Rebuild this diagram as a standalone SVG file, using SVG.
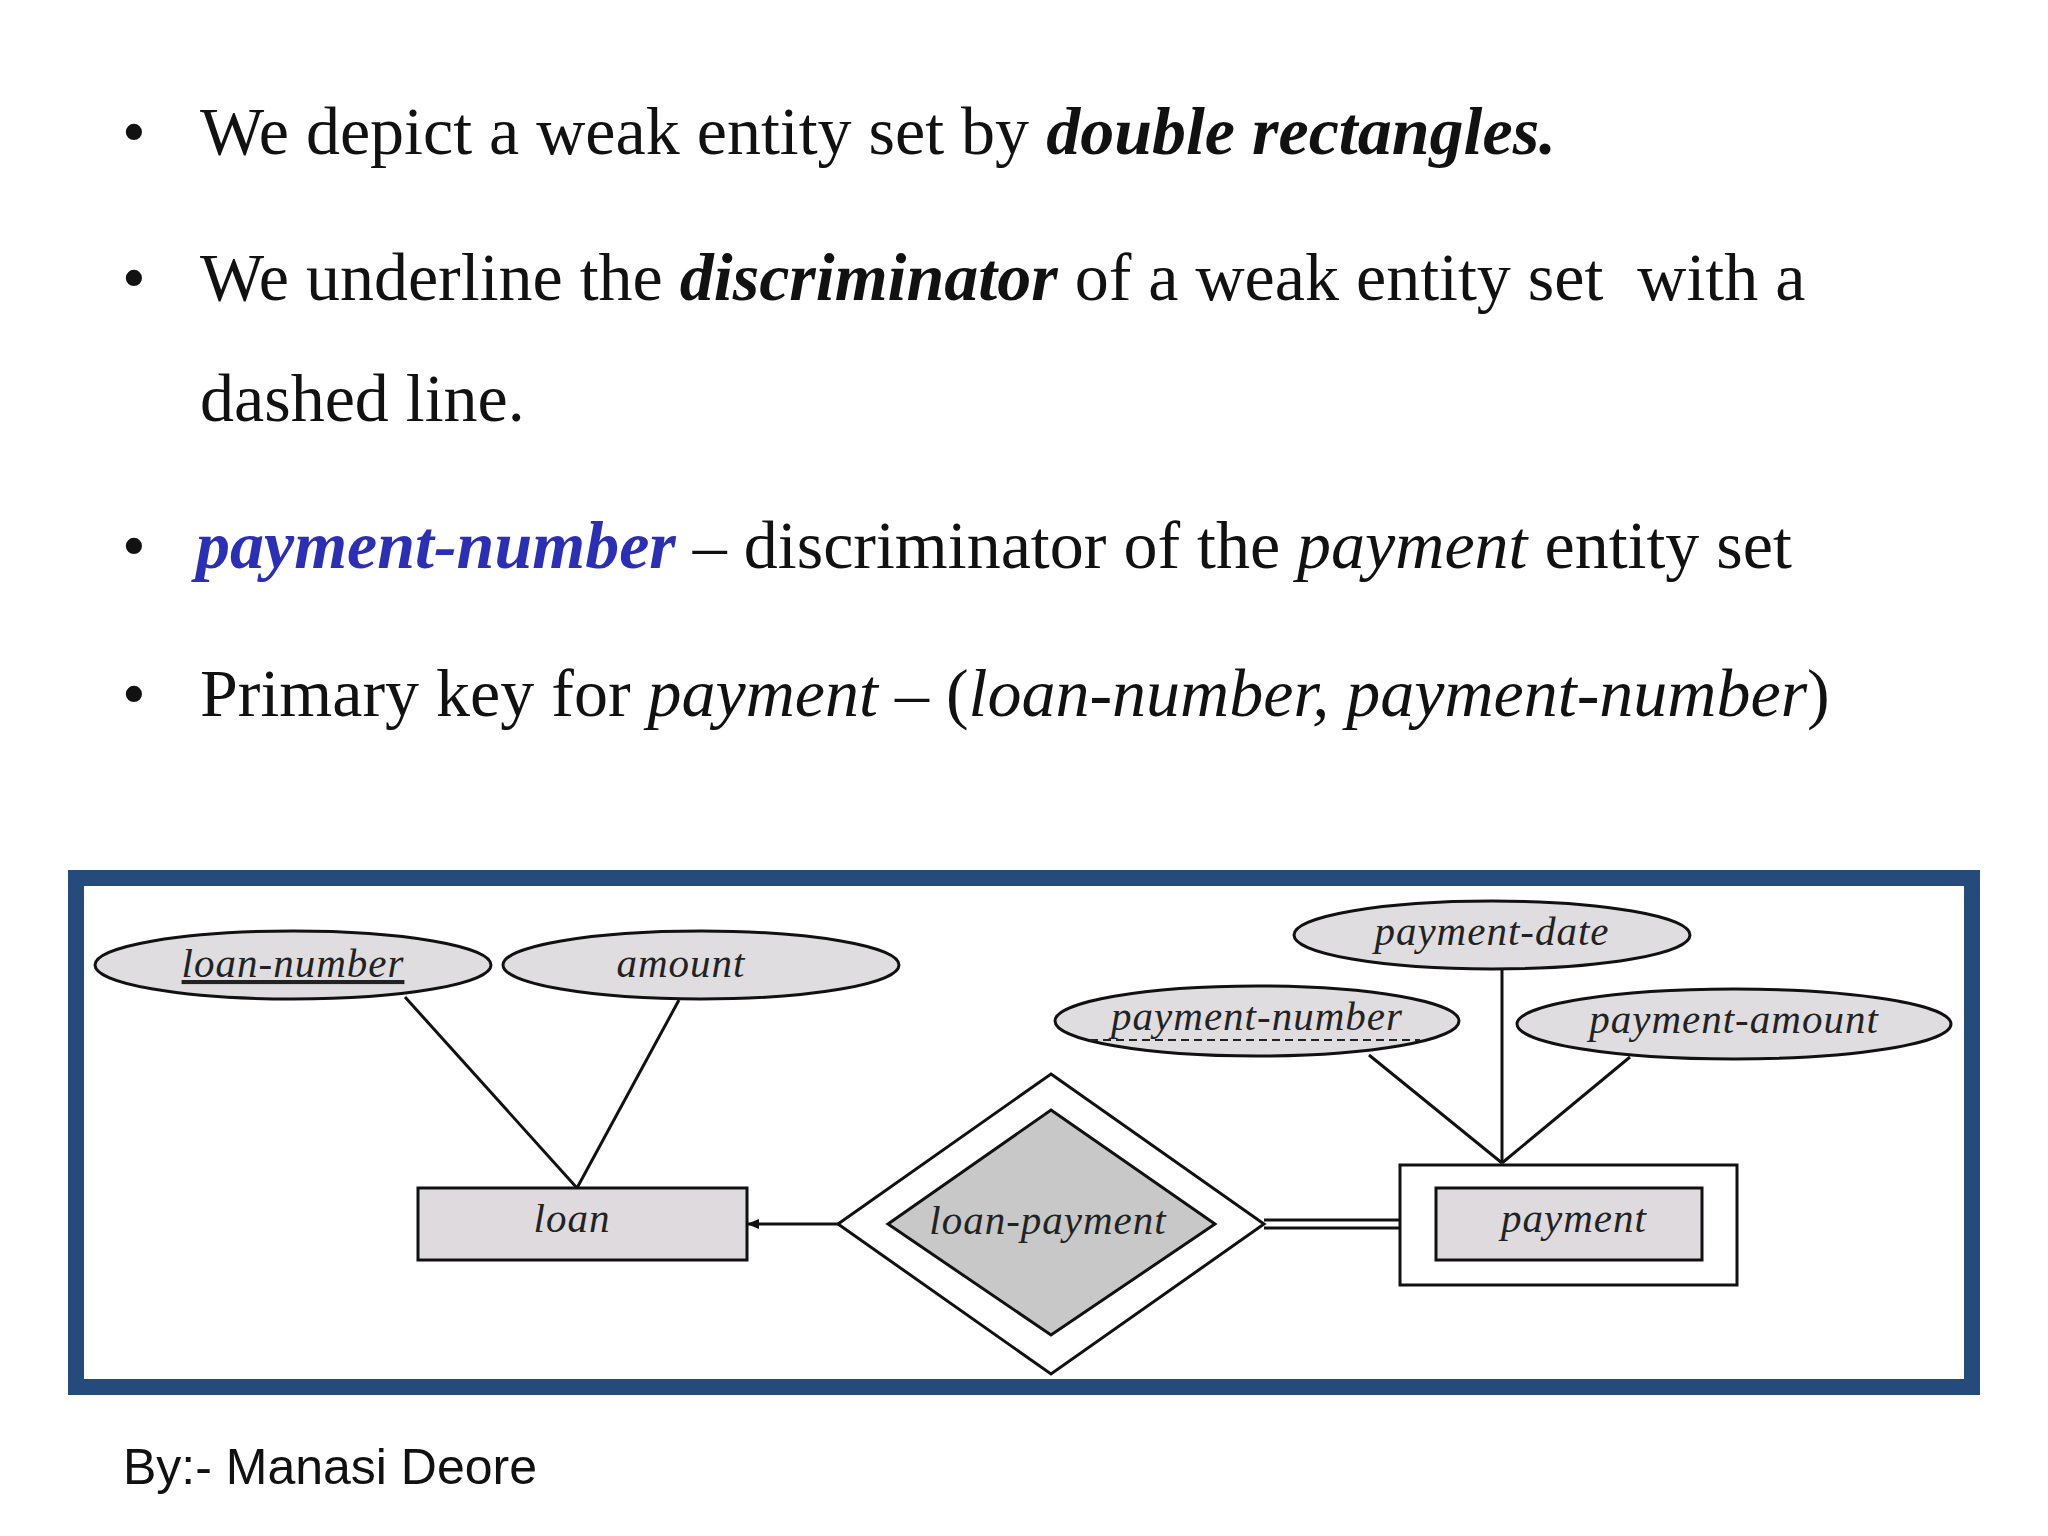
<svg xmlns="http://www.w3.org/2000/svg" width="2048" height="1536" viewBox="0 0 2048 1536">
<style>
.b{font-family:"Liberation Serif",serif;font-size:68px;fill:#111}
.bl{fill:#2b2fb5;font-weight:bold;font-style:italic}
.e{fill:#e0dde0;stroke:#111;stroke-width:3}
.t{font-family:"Liberation Serif",serif;font-style:italic;font-size:41px;fill:#222;text-anchor:middle;letter-spacing:1px}
.l{stroke:#111;stroke-width:3;fill:none}
</style>
<defs><marker id="ar" markerWidth="12" markerHeight="10" refX="11" refY="5" orient="auto" markerUnits="userSpaceOnUse"><path d="M0,0 L12,5 L0,10 Z" fill="#111"/></marker></defs>
<rect width="2048" height="1536" fill="#fff"/>
<g id="text">
<text class="b" x="122" y="154">•</text><text class="b" x="200" y="154">We depict a weak entity set by <tspan font-weight="bold" font-style="italic">double rectangles.</tspan></text>
<text class="b" x="122" y="300">•</text><text class="b" x="200" y="300" xml:space="preserve">We underline the <tspan font-weight="bold" font-style="italic">discriminator</tspan> of a weak entity set  with a</text>
<text class="b" x="200" y="421">dashed line.</text>
<text class="b" x="122" y="568">•</text><text class="b" x="196" y="568"><tspan class="bl">payment-number</tspan> – discriminator of the <tspan font-style="italic">payment</tspan> entity set</text>
<text class="b" x="122" y="716">•</text><text class="b" x="200" y="716">Primary key for <tspan font-style="italic">payment</tspan> – (<tspan font-style="italic">loan-number, payment-number</tspan>)</text>
<text x="123" y="1484" font-family="Liberation Sans,sans-serif" font-size="50" fill="#111">By:- Manasi Deore</text>
</g>
<rect id="frame" x="76" y="878" width="1896" height="509" fill="#fff" stroke="#254b7c" stroke-width="16"/>
<g id="connectors">
<line class="l" x1="405" y1="997" x2="577" y2="1188"/>
<line class="l" x1="679" y1="1000" x2="577" y2="1188"/>
<line class="l" x1="1369" y1="1055" x2="1502" y2="1163"/>
<line class="l" x1="1502" y1="968" x2="1502" y2="1163"/>
<line class="l" x1="1630" y1="1057" x2="1502" y2="1163"/>
<line class="l" x1="838" y1="1224" x2="748" y2="1224" marker-end="url(#ar)"/>
<line class="l" x1="1264" y1="1220" x2="1400" y2="1220"/>
<line class="l" x1="1264" y1="1228" x2="1400" y2="1228"/>
</g>
<g id="loan-number"><ellipse class="e" cx="293" cy="965" rx="198" ry="34"/><text class="t" x="293" y="977" text-decoration="underline">loan-number</text></g>
<g id="amount"><ellipse class="e" cx="701" cy="965" rx="198" ry="34"/><text class="t" x="681" y="977">amount</text></g>
<g id="payment-date"><ellipse class="e" cx="1492" cy="935" rx="198" ry="34"/><text class="t" x="1492" y="945">payment-date</text></g>
<g id="payment-number"><ellipse class="e" cx="1257" cy="1021" rx="202" ry="35"/><text class="t" x="1257" y="1030">payment-number</text><line x1="1090" y1="1040" x2="1420" y2="1040" stroke="#222" stroke-width="2" stroke-dasharray="8,5"/></g>
<g id="payment-amount"><ellipse class="e" cx="1734" cy="1024" rx="217" ry="35"/><text class="t" x="1734" y="1033">payment-amount</text></g>
<g id="loan"><rect x="418" y="1188" width="329" height="72" fill="#dedade" stroke="#111" stroke-width="3"/><text class="t" x="572" y="1232">loan</text></g>
<g id="loan-payment"><polygon points="1051,1074 1264,1224 1051,1374 838,1224" fill="#fff" stroke="#111" stroke-width="3"/><polygon points="1051,1110 1215,1224 1051,1335 888,1224" fill="#c8c8c8" stroke="#111" stroke-width="3"/><text class="t" x="1048" y="1234">loan-payment</text></g>
<g id="payment"><rect x="1400" y="1165" width="337" height="120" fill="#fff" stroke="#111" stroke-width="3"/><rect x="1436" y="1188" width="266" height="72" fill="#dedade" stroke="#111" stroke-width="3"/><text class="t" x="1574" y="1232">payment</text></g>
</svg>
